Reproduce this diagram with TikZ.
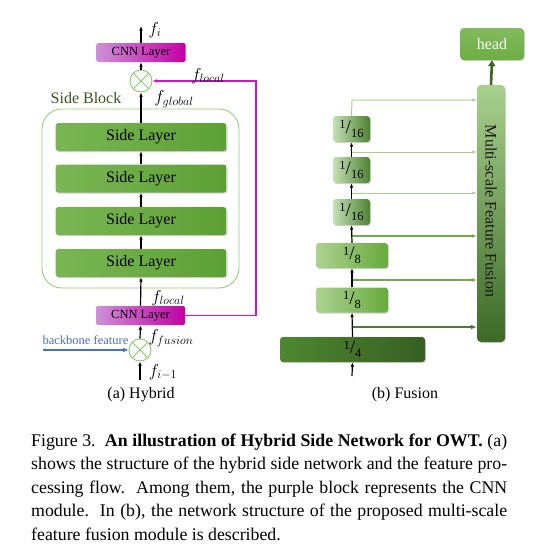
\documentclass[tikz,border=0pt]{standalone}
\usepackage{fontspec}
\setmainfont{Liberation Serif}
\usetikzlibrary{arrows.meta,shadows,calc}
\definecolor{cnnL}{RGB}{205,145,215}
\definecolor{cnnR}{RGB}{195,0,165}
\definecolor{magline}{RGB}{205,20,200}
\definecolor{slL}{RGB}{122,182,84}
\definecolor{slR}{RGB}{92,160,52}
\definecolor{sbline}{RGB}{150,205,120}
\definecolor{sbtext}{RGB}{56,87,30}
\definecolor{circG}{RGB}{140,200,110}
\definecolor{bbblue}{RGB}{68,114,196}
\definecolor{headC}{RGB}{108,174,66}
\definecolor{msT}{RGB}{169,209,142}
\definecolor{msB}{RGB}{60,105,38}
\definecolor{aL}{RGB}{197,224,180}
\definecolor{aR}{RGB}{78,130,50}
\definecolor{bL}{RGB}{172,210,145}
\definecolor{bR}{RGB}{104,170,60}
\definecolor{cL}{RGB}{78,135,48}
\definecolor{cM}{RGB}{128,192,76}
\definecolor{cR}{RGB}{55,95,35}
\definecolor{lnL}{RGB}{169,209,142}
\definecolor{lnM}{RGB}{112,173,71}
\definecolor{lnD}{RGB}{78,122,53}
\definecolor{headArr}{RGB}{62,100,40}
\newcommand{\scalefrac}[1]{\raisebox{4.5pt}{\fontsize{12.5}{13}\selectfont 1}{\fontsize{19}{20}\selectfont /}\raisebox{-4pt}{\fontsize{12.5}{13}\selectfont #1}}
\begin{document}
\begin{tikzpicture}[x=1pt,y=-1pt,
  arr/.style={-{Latex[length=4.5pt,width=3.6pt]}, line width=1.2pt, black},
  shad/.style={drop shadow={opacity=0.35,shadow xshift=1pt,shadow yshift=-1.2pt}},
  cnn/.style={rounded corners=2pt, minimum width=89pt, minimum height=19pt, inner sep=0pt,
    left color=cnnL, right color=cnnR, font=\fontsize{12.5}{15}\selectfont},
  sidelayer/.style={shad, rounded corners=3pt, minimum width=171pt, minimum height=28pt, inner sep=0pt,
    left color=slL, right color=slR, font=\fontsize{16}{19}\selectfont},
  otimesnode/.style={circle, draw=circG, line width=0.9pt, minimum size=22pt, inner sep=0pt, fill=white,
    path picture={\draw[circG, line width=0.9pt] (path picture bounding box.north west) -- (path picture bounding box.south east)
      (path picture bounding box.north east) -- (path picture bounding box.south west);}},
  lbl/.style={font=\fontsize{17}{20}\selectfont, inner sep=0pt},
  scalebox/.style={shad, rounded corners=3pt, inner sep=0pt},
  sixteen/.style={scalebox, minimum width=37pt, minimum height=26pt, left color=aL, right color=aR},
  eighth/.style={scalebox, minimum width=72pt, minimum height=25pt, left color=bL, right color=bR},
  quarter/.style={scalebox, minimum width=145pt, minimum height=25pt, left color=cL, middle color=cM, right color=cR},
  light/.style={-{Latex[length=4.5pt,width=3.6pt]}, line width=1pt, lnL},
  medium/.style={-{Latex[length=5pt,width=4pt]}, line width=1.3pt, lnM},
  dark/.style={-{Latex[length=6pt,width=5pt]}, line width=2pt, lnD},
  capline/.style={anchor=base west, inner sep=0pt, font=\fontsize{17.8}{22}\selectfont},
  sub/.style={font=\fontsize{16}{19}\selectfont, inner sep=0pt}
]
\useasboundingbox (0,0) rectangle (547,557);

% ---------- (a) Hybrid ----------
\node[draw=sbline, line width=0.9pt, rounded corners=20pt, minimum width=197pt, minimum height=179pt] (sb) at (140.5,198.5) {};
\node[lbl, text=sbtext, font=\fontsize{16}{19}\selectfont] (sbl) at (86,98) {Side Block};

\node[cnn] (cnn1) at (141,52.5) {CNN Layer};
\node[cnn] (cnn2) at (140.5,315.5) {CNN Layer};
\node[otimesnode] (ot1) at (141,81) {};
\node[otimesnode] (ot2) at (140,350) {};

\node[sidelayer] (sl1) at (141,137) {Side Layer};
\node[sidelayer] (sl2) at (141,178.5) {Side Layer};
\node[sidelayer] (sl3) at (141,221) {Side Layer};
\node[sidelayer] (sl4) at (141,263) {Side Layer};

\coordinate (fitop) at (141,26);
\coordinate (fibot) at (140,380);
\coordinate (bbstart) at (43,350);
\coordinate (magc) at (256,200);

\draw[arr] (cnn1.north) -- (fitop);
\draw[arr] (ot1.north) -- (cnn1.south);
\draw[arr] (sl1.north) -- (ot1.south);
\draw[arr] (sl2.north) -- (sl1.south);
\draw[arr] (sl3.north) -- (sl2.south);
\draw[arr] (sl4.north) -- (sl3.south);
\draw[arr] (cnn2.north) -- (sl4.south);
\draw[arr] (ot2.north) -- (cnn2.south);
\draw[arr] (fibot) -- (ot2.south);
\draw[-{Latex[length=5.5pt,width=5pt]}, line width=2.2pt, bbblue] (bbstart) -- (ot2.west);
\draw[-{Latex[length=4.5pt,width=3.8pt]}, line width=1.3pt, magline] (cnn2.east) -| (magc) |- (ot1.east);

\node[lbl] (lfi) at (155,30) {$f_i$};
\node[lbl] (lfl1) at (208,76) {$f_{local}$};
\node[lbl] (lfg) at (174,99) {$f_{global}$};
\node[lbl] (lfl2) at (168,298) {$f_{local}$};
\node[lbl] (lff) at (171,338) {$f_{fusion}$};
\node[lbl] (lfim) at (163,372) {$f_{i-1}$};
\node[inner sep=0pt, text=bbblue, font=\fontsize{12.5}{15}\selectfont] (bbl) at (85.5,340) {backbone feature};
\node[sub] (suba) at (141,395) {(a) Hybrid};

% ---------- (b) Fusion ----------
\node[shad, rounded corners=4pt, minimum width=64pt, minimum height=32pt, inner sep=0pt,
  top color=headC!85!white, bottom color=headC, text=white, font=\fontsize{16}{19}\selectfont] (head) at (492,44) {head};
\node[shad, rounded corners=4pt, minimum width=28pt, minimum height=257pt, inner sep=0pt,
  top color=msT, bottom color=msB] (msff) at (491,213.5) {};
\node[rotate=-90, inner sep=0pt, text=black!90, font=\fontsize{16}{19}\selectfont] (msfft) at (491,211) {Multi-scale Feature Fusion};

\node[sixteen] (a1) at (351.5,129) {\scalefrac{16}};
\node[sixteen] (a2) at (351.5,170) {\scalefrac{16}};
\node[sixteen] (a3) at (351.5,212) {\scalefrac{16}};
\node[eighth] (b1) at (352,255.5) {\scalefrac{8}};
\node[eighth] (b2) at (352,300) {\scalefrac{8}};
\node[quarter] (c) at (352.5,349.5) {\scalefrac{4}};

\coordinate (cst) at (352,376);
\coordinate (t1) at (352,100);
\coordinate (t2) at (352,152);
\coordinate (t3) at (352,193);
\coordinate (t4) at (352,236);
\coordinate (t5) at (352,280);
\coordinate (t6) at (352,327);

\draw[light] (a1.north) -- (t1) -- (t1 -| msff.west);
\draw[light] (t2) -- (t2 -| msff.west);
\draw[light] (t3) -- (t3 -| msff.west);
\draw[medium] (t4) -- (t4 -| msff.west);
\draw[medium] (t5) -- (t5 -| msff.west);
\draw[dark] (t6) -- (t6 -| msff.west);

\draw[arr] (cst) -- (c.south);
\draw[arr] (c.north) -- (b2.south);
\draw[arr] (b2.north) -- (b1.south);
\draw[arr] (b1.north) -- (a3.south);
\draw[arr] (a3.north) -- (a2.south);
\draw[arr] (a2.north) -- (a1.south);
\draw[-{Triangle[length=6pt,width=7pt]}, line width=2.6pt, headArr] (msff.north) -- (head.south);

\node[sub] (subb) at (405,395) {(b) Fusion};

% ---------- caption ----------
\node[capline] (cap1) at (31,446) {\makebox[476pt][s]{Figure 3.\ \ \textbf{An illustration of Hybrid Side Network for OWT.} (a)}};
\node[capline] (cap2) at (31,469.5) {\makebox[476pt][s]{shows the structure of the hybrid side network and the feature pro-}};
\node[capline] (cap3) at (31,493) {\makebox[476pt][s]{cessing flow.\ \ Among them, the purple block represents the CNN}};
\node[capline] (cap4) at (31,516.5) {\makebox[476pt][s]{module.\ \ In (b), the network structure of the proposed multi-scale}};
\node[capline] (cap5) at (31,540) {feature fusion module is described.};
\end{tikzpicture}
\end{document}
